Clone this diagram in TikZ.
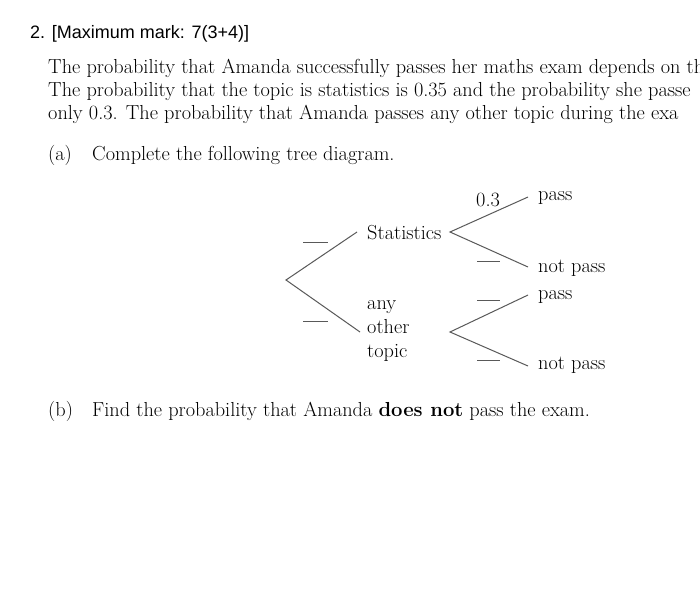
\documentclass[tikz,border=0pt]{standalone}
\usepackage{fontspec}
\newfontfamily\hdfont{Liberation Sans}
\begin{document}
\begin{tikzpicture}[x=1pt,y=-1pt,
  txt/.style={anchor=base west,inner sep=0pt,text=black,font=\fontsize{20.3}{23}\selectfont},
  br/.style={draw=black!65,line width=1pt},
  blank/.style={draw=black!65,line width=1pt}]
\useasboundingbox (0,0) rectangle (700,608);
\fill[white] (0,0) rectangle (700,608);
\node[txt,font=\hdfont\fontsize{18}{20}\selectfont] (hd) at (30,38) {2. [Maximum mark: 7(3+4)]};
\node[txt] (l1) at (48,73) {The probability that Amanda successfully passes her maths exam depends on th};
\node[txt] (l2) at (48,96) {The probability that the topic is statistics is 0.35 and the probability she passe};
\node[txt] (l3) at (48,119) {only 0.3. The probability that Amanda passes any other topic during the exa};
\node[txt] (a) at (48,160) {(a)};
\node[txt] (at) at (92,160) {Complete the following tree diagram.};
% tree
\coordinate (r) at (286,280);
\coordinate (s1) at (357,232);
\coordinate (o1) at (360,332);
\coordinate (s2) at (450,232);
\coordinate (o2) at (450,332);
\coordinate (sp) at (528,197);
\coordinate (sn) at (528,267);
\coordinate (op) at (528,295);
\coordinate (on) at (528,366);
\draw[br] (s1) -- (r) -- (o1);
\draw[br] (sp) -- (s2) -- (sn);
\draw[br] (op) -- (o2) -- (on);
\node[txt] (st) at (367,239) {Statistics};
\node[txt] (any) at (367,309) {any};
\node[txt] (oth) at (367,333) {other};
\node[txt] (top) at (367,357) {topic};
\node[txt] (p1) at (538,200) {pass};
\node[txt] (n1) at (538,272) {not pass};
\node[txt] (p2) at (538,299) {pass};
\node[txt] (n2) at (538,369) {not pass};
\node[txt] (q) at (476,206) {0.3};
\draw[blank] (303,242) -- (328,242);
\draw[blank] (303,321) -- (328,321);
\draw[blank] (477,261) -- (500,261);
\draw[blank] (477,300) -- (500,300);
\draw[blank] (477,360) -- (500,360);
\node[txt] (b) at (48,416) {(b)};
\node[txt] (bt) at (92,416) {Find the probability that Amanda \textbf{does not} pass the exam.};
\end{tikzpicture}
\end{document}
